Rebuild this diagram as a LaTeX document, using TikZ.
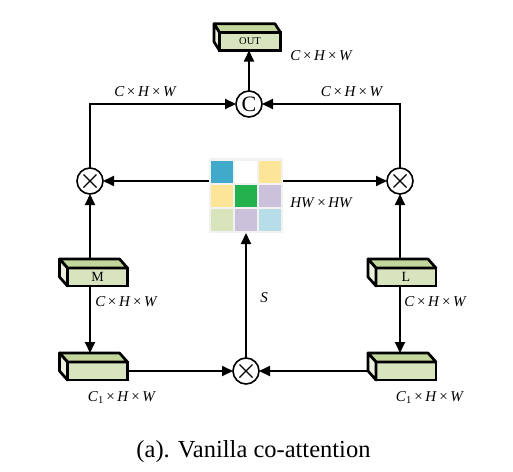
\documentclass[tikz,border=0pt]{standalone}
\usepackage{fontspec}
\setmainfont{Liberation Serif}
\usetikzlibrary{arrows.meta}
\definecolor{frontg}{HTML}{D7E4BD}
\definecolor{topg}{HTML}{C3D69B}
\definecolor{sideg}{HTML}{EBF1DE}
\definecolor{cblue}{HTML}{41A9C9}
\definecolor{cyellow}{HTML}{FDE598}
\definecolor{cgreen}{HTML}{22B14C}
\definecolor{clav}{HTML}{CCC1DA}
\definecolor{clgreen}{HTML}{D8E4BC}
\definecolor{clblue}{HTML}{B7DDE8}
\definecolor{cbg}{HTML}{F2F2F2}
\newcommand{\tms}{\hspace{0.17em}×\hspace{0.17em}}
\newcommand{\chw}{\textit{C}\tms\textit{H}\tms\textit{W}}
\newcommand{\cchw}{\textit{C}\textsubscript{1}\tms\textit{H}\tms\textit{W}}
\newcommand{\gbox}[7]{% name, x, y, label, dx, dy, width
  \node[frontbox,minimum width=#7pt] (#1) at (#2,#3) {#4};
  \node[backbox,minimum width=#7pt] (#1b) at ([shift={(#5,#6)}]#1.center) {};
  \filldraw[fill=topg,line width=2.7pt,line join=round] (#1.north west) -- (#1b.north west) -- (#1b.north east) -- (#1.north east) -- cycle;
  \filldraw[fill=sideg,line width=2.7pt,line join=round] (#1.north west) -- (#1b.north west) -- (#1b.south west) -- (#1.south west) -- cycle;
}
\newcommand{\opx}[2]{%
  \node[opnode] (#1) at (#2) {};
  \draw[line width=1.3pt] ([shift={(-6.5,-6.5)}]#1.center) -- ([shift={(6.5,6.5)}]#1.center)
    ([shift={(-6.5,6.5)}]#1.center) -- ([shift={(6.5,-6.5)}]#1.center);
}
\tikzset{
  conn/.style={line width=1.8pt},
  arr/.style={conn,-{Triangle[length=11pt,width=10pt]}},
  frontbox/.style={draw,fill=frontg,line width=2.7pt,rectangle,minimum height=18pt,inner sep=0pt,outer sep=0pt,font=\fontsize{14}{16}\selectfont},
  backbox/.style={rectangle,minimum height=18pt,inner sep=0pt,outer sep=0pt},
  opnode/.style={circle,draw,line width=1.6pt,minimum size=26pt,inner sep=0pt,outer sep=0pt,fill=white},
  lab/.style={font=\fontsize{15}{17}\selectfont,inner sep=0pt,anchor=base},
  cell/.style={minimum size=22pt,inner sep=0pt,outer sep=0pt},
}
\begin{document}
\begin{tikzpicture}[x=1pt,y=-1pt]
\useasboundingbox (0,0) rectangle (513,471);
% boxes
\gbox{OUT}{250}{41.5}{\fontsize{10.5}{12}\selectfont OUT}{-5.5}{-8.7}{61}
\gbox{M}{97.5}{277}{M}{-8}{-9}{60}
\gbox{L}{406}{277}{L}{-8}{-9}{60}
\gbox{BL}{97.5}{371}{}{-8}{-9}{60}
\gbox{BR}{406}{371}{}{-8}{-9}{60}
% operators
\node[opnode,font=\fontsize{22}{24}\selectfont] (C) at (249,104) {C};
\opx{lx}{90,181}
\opx{rx}{400,181}
\opx{bx}{246,371}
% matrix
\node[fill=cbg,minimum width=74pt,minimum height=75pt,inner sep=0pt,outer sep=0pt] (mat) at (246,195.5) {};
\node[cell,fill=cblue] (m11) at (222,171.5) {};
\node[cell,fill=white] (m12) at (246,171.5) {};
\node[cell,fill=cyellow] (m13) at (270,171.5) {};
\node[cell,fill=cyellow] (m21) at (222,195.5) {};
\node[cell,fill=cgreen] (m22) at (246,195.5) {};
\node[cell,fill=clav] (m23) at (270,195.5) {};
\node[cell,fill=clgreen] (m31) at (222,219.5) {};
\node[cell,fill=clav] (m32) at (246,219.5) {};
\node[cell,fill=clblue] (m33) at (270,219.5) {};
% connectors
\draw[arr] (C.north) -- (C.north |- OUT.south);
\draw[arr] (lx.north) |- (C.west);
\draw[arr] (rx.north) |- (C.east);
\draw[arr] (lx.east -| mat.west) -- (lx.east);
\draw[arr] (rx.west -| mat.east) -- (rx.west);
\draw[arr] (lx.south |- Mb.north) -- (lx.south);
\draw[arr] (rx.south |- Lb.north) -- (rx.south);
\draw[arr] (lx.south |- M.south) -- (lx.south |- BLb.north);
\draw[arr] (rx.south |- L.south) -- (rx.south |- BRb.north);
\draw[arr] (BL.east) -- (bx.west);
\draw[arr] (bx.east -| BRb.west) -- (bx.east);
\draw[arr] (bx.north) -- (bx.north |- mat.south);
% labels
\node[lab] (l1) at (145.5,96) {\chw};
\node[lab] (l2) at (352,96) {\chw};
\node[lab] (l3) at (321.5,60) {\chw};
\node[lab] (l4) at (321.5,207) {\textit{HW}\tms\textit{HW}};
\node[lab] (l5) at (126.5,306) {\chw};
\node[lab] (l6) at (435.5,306) {\chw};
\node[lab] (l7) at (122,401.5) {\cchw};
\node[lab] (l8) at (430,401) {\cchw};
\node[lab] (l9) at (264,302) {\textit{S}};
\node[font=\fontsize{24.5}{28}\selectfont,inner sep=0pt,anchor=base] (cap) at (253.5,457) {(a). Vanilla co-attention};
\end{tikzpicture}
\end{document}
